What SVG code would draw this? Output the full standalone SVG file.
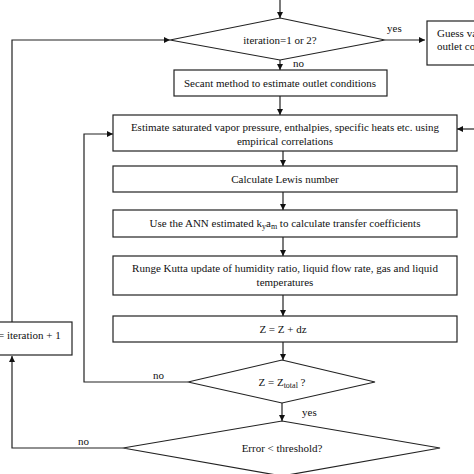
<svg xmlns="http://www.w3.org/2000/svg" width="474" height="474" viewBox="0 0 474 474">
<defs>
<marker id="ah" viewBox="0 0 10 10" refX="10" refY="5" markerWidth="6" markerHeight="6" markerUnits="userSpaceOnUse" orient="auto">
<path d="M0,0 L10,5 L0,10 z" fill="#111"/>
</marker>
<style>
.n{fill:#fff;stroke:#222;stroke-width:1.2}
.c{fill:none;stroke:#222;stroke-width:1.2;marker-end:url(#ah)}
text{font-family:'Liberation Serif','DejaVu Serif',serif;font-size:11px;fill:#111}
.m{text-anchor:middle}
.s{font-size:8px}
</style>
</defs>
<rect width="474" height="474" fill="#fff"/>
<g id="connectors">
<path class="c" d="M280,0 V18"/>
<path class="c" d="M385,40 H425"/>
<path class="c" d="M280,60 V70"/>
<path class="c" d="M280,96 V115"/>
<path class="c" d="M474,129 H457"/>
<path class="c" d="M283,151 V166"/>
<path class="c" d="M283,192 V210"/>
<path class="c" d="M283,237 V256"/>
<path class="c" d="M283,295 V316"/>
<path class="c" d="M283,342 V360"/>
<path class="c" d="M282,403 V421"/>
<path class="c" d="M188,382 H84 V134 H113"/>
<path class="c" d="M123,448 H12 V356"/>
<path class="c" d="M12,322 V40 H170"/>
<text x="387" y="32">yes</text>
<text x="293" y="67">no</text>
<text x="153" y="379">no</text>
<text x="302" y="416">yes</text>
<text x="78" y="445">no</text>
</g>
<g id="d1">
<polygon class="n" points="280,18 385,40 280,60 170,40"/>
<text class="m" x="280" y="44">iteration=1 or 2?</text>
</g>
<g id="guess">
<rect class="n" x="427" y="21" width="60" height="44"/>
<text x="437" y="37">Guess values of</text>
<text x="437" y="50">outlet conditions</text>
</g>
<g id="secant">
<rect class="n" x="174" y="70" width="213" height="26"/>
<text class="m" x="280" y="87">Secant method to estimate outlet conditions</text>
</g>
<g id="estimate">
<rect class="n" x="113" y="115" width="344" height="36"/>
<text class="m" x="285" y="131">Estimate saturated vapor pressure, enthalpies, specific heats etc. using</text>
<text class="m" x="285" y="145">empirical correlations</text>
</g>
<g id="lewis">
<rect class="n" x="113" y="166" width="344" height="26"/>
<text class="m" x="285" y="183">Calculate Lewis number</text>
</g>
<g id="ann">
<rect class="n" x="113" y="210" width="344" height="27"/>
<text class="m" x="285" y="227">Use the ANN estimated k<tspan class="s" dy="2">y</tspan><tspan dy="-2">a</tspan><tspan class="s" dy="2">m</tspan><tspan dy="-2"> to calculate transfer coefficients</tspan></text>
</g>
<g id="runge">
<rect class="n" x="113" y="256" width="344" height="39"/>
<text class="m" x="285" y="272">Runge Kutta update of humidity ratio, liquid flow rate, gas and liquid</text>
<text class="m" x="285" y="286">temperatures</text>
</g>
<g id="zdz">
<rect class="n" x="113" y="316" width="344" height="26"/>
<text class="m" x="283" y="333">Z = Z + dz</text>
</g>
<g id="d2">
<polygon class="n" points="282,360 375,382 282,403 188,382"/>
<text class="m" x="282" y="386">Z = Z<tspan class="s" dy="2">total</tspan><tspan dy="-2"> ?</tspan></text>
</g>
<g id="d3">
<polygon class="n" points="282,421 440,448 282,476 123,448"/>
<text class="m" x="282" y="452">Error  &lt; threshold?</text>
</g>
<g id="iter">
<rect class="n" x="-60" y="322" width="132" height="33"/>
<text x="-2" y="339">= iteration + 1</text>
</g>
</svg>
